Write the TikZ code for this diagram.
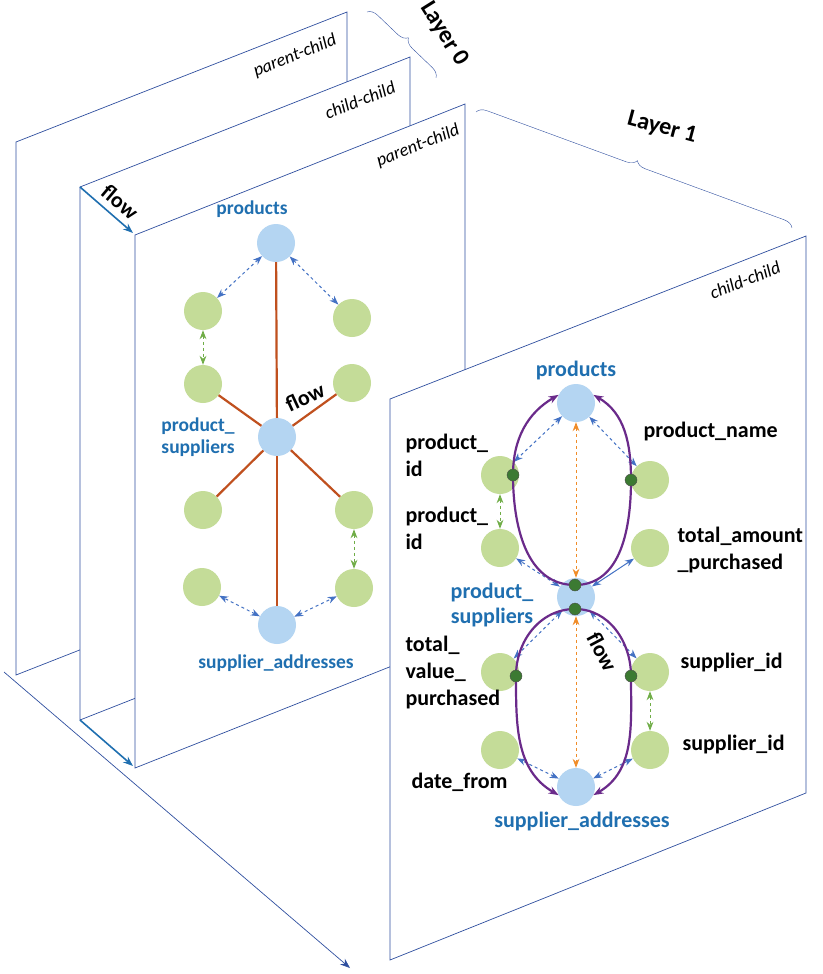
\documentclass[tikz,border=0pt]{standalone}
\usepackage{fontspec}
\setmainfont{Carlito}
\usetikzlibrary{arrows.meta,decorations.pathreplacing}
\definecolor{panelc}{HTML}{2F4F9F}
\definecolor{nblue}{HTML}{B4D5F2}
\definecolor{ngreen}{HTML}{C4DC98}
\definecolor{tblue}{HTML}{1F6FB0}
\definecolor{brown}{HTML}{C0501E}
\definecolor{purp}{HTML}{6A2A8A}
\definecolor{dblue}{HTML}{4472C4}
\definecolor{garrow}{HTML}{70AD47}
\definecolor{oarrow}{HTML}{F08C28}
\definecolor{dotc}{HTML}{3C7A32}
\tikzset{
  panel/.style={draw=panelc, fill=white, line width=0.7pt},
  tnode/.style={circle, fill=nblue, minimum size=38pt, inner sep=0pt},
  cnode/.style={circle, fill=ngreen, minimum size=38pt, inner sep=0pt},
  tlab/.style={text=tblue, font=\fontsize{22}{25}\selectfont\bfseries, align=center},
  slab/.style={text=tblue, font=\fontsize{19.5}{22}\selectfont\bfseries, align=center},
  clab/.style={font=\fontsize{22}{27}\selectfont\bfseries, align=left},
  plab/.style={font=\fontsize{18}{19}\selectfont\itshape, rotate=21.5, inner sep=1pt},
  link/.style={draw=brown, line width=2.2pt},
  rel/.style={{Stealth[length=9pt]}-{Stealth[length=9pt]}, dashed, draw=dblue, line width=1pt},
  same/.style={{Stealth[length=9pt]}-{Stealth[length=9pt]}, dashed, draw=garrow, line width=1pt},
  ord/.style={{Stealth[length=9pt]}-{Stealth[length=9pt]}, dashed, draw=oarrow, line width=1pt},
  loop/.style={-{Stealth[length=10pt]}, draw=purp, line width=2.2pt},
  dot/.style={circle, fill=dotc, draw=black!70, minimum size=12pt, inner sep=0pt},
  flowarr/.style={-{Stealth[length=10pt]}, draw=tblue, line width=1.6pt},
  brc/.style={draw=panelc, decorate, decoration={brace, amplitude=10pt}},
  flab/.style={font=\fontsize{22}{24}\selectfont\bfseries},
  llab/.style={font=\fontsize{24}{26}\selectfont\bfseries}
}
\begin{document}
\begin{tikzpicture}[x=1pt,y=-1pt]
    \useasboundingbox (0,0) rectangle (822,974);

    % floor
    \draw[-{Stealth[length=10pt]}, draw=panelc, line width=0.7pt] (4,672) -- (350,968);

    % layer 0 panels
    \draw[panel] (16,675) -- (16,142) -- (347,12) -- (347,545) -- cycle;
    \draw[panel] (80,720) -- (80,187) -- (410,57) -- (410,590) -- cycle;
    \draw[panel] (135,768) -- (135,235) -- (465,104) -- (465,637) -- cycle;
    \draw[flowarr] (80,187) -- (133,233);
    \draw[flowarr] (80,720) -- (133,766);
    \node[flab, rotate=-40] at (120,202) {flow};

    % layer 1 panel
    \draw[panel] (390,960) -- (390,399) -- (806,236) -- (806,793) -- cycle;

    \node[plab] at (295,56) {parent-child};
    \node[plab] at (360,100) {child-child};
    \node[plab] at (418,146) {parent-child};
    \node[plab] at (745,280) {child-child};

    % braces
    \draw[brc] (367,12) -- (436,78);
    \node[llab, rotate=-58] at (444,34) {Layer 0};
    \draw[brc] (476,112) -- (792,228);
    \node[llab, rotate=-15] at (662,128) {Layer 1};

    % left graph
    \node[tnode] (p0) at (276,243) {};
    \node[tnode] (ps0) at (277,437) {};
    \node[tnode] (sa0) at (277,625) {};
    \node[cnode] (l1) at (203,311) {};
    \node[cnode] (r1) at (352,318) {};
    \node[cnode] (l2) at (203,384) {};
    \node[cnode] (r2) at (352,383) {};
    \node[cnode] (l3) at (203,510) {};
    \node[cnode] (r3) at (354,510) {};
    \node[cnode] (l4) at (202,587) {};
    \node[cnode] (r4) at (354,588) {};
    \node[slab] (p0lab) at (252,209) {products};
    \node[slab] (ps0lab) at (198,437) {product\_\\suppliers};
    \node[slab] (sa0lab) at (276,663) {supplier\_addresses};
    \node[flab, rotate=25] (fl0) at (305,397) {flow};

    \foreach \n in {p0,sa0,l2,r2,l3,r3}
        \draw[link] (ps0) -- (\n);
    \draw[rel] (p0) -- (l1);
    \draw[rel] (p0) -- (r1);
    \draw[rel] (sa0) -- (l4);
    \draw[rel] (sa0) -- (r4);
    \draw[same] (l1) -- (l2);
    \draw[same] (r3) -- (r4);

    % right graph
    \node[tnode] (q0) at (576,403) {};
    \node[tnode] (ps1) at (576,597) {};
    \node[tnode] (sa1) at (576,787) {};
    \node[cnode] (a1) at (500,475) {};
    \node[cnode] (b1) at (650,480) {};
    \node[cnode] (a2) at (500,548) {};
    \node[cnode] (b2) at (650,548) {};
    \node[cnode] (a3) at (500,672) {};
    \node[cnode] (b3) at (650,672) {};
    \node[cnode] (a4) at (500,750) {};
    \node[cnode] (b4) at (650,750) {};
    \node[tlab] (q0lab) at (576,371) {products};
    \node[tlab] (ps1lab) at (492,605) {product\_\\suppliers};
    \node[tlab] (sa1lab) at (582,822) {supplier\_addresses};

    \node[clab, anchor=west] at (402,455) {product\_\\id};
    \node[clab, anchor=west] at (402,528) {product\_\\id};
    \node[clab, anchor=west] at (640,432) {product\_name};
    \node[clab, anchor=west] at (674,550) {total\_amount\\\_purchased};
    \node[clab, anchor=west] at (402,673) {total\_\\value\_\\purchased};
    \node[clab, anchor=west] at (677,663) {supplier\_id};
    \node[clab, anchor=west] at (679,745) {supplier\_id};
    \node[clab, anchor=west] at (408,782) {date\_from};
    \node[flab, rotate=-62] (fl1) at (602,652) {flow};

    \draw[rel] (q0) -- (a1);
    \draw[rel] (q0) -- (b1);
    \draw[rel] (ps1) -- (a2);
    \draw[rel, solid] (ps1) -- (b2);
    \draw[rel] (ps1) -- (a3);
    \draw[rel] (ps1) -- (b3);
    \draw[rel] (sa1) -- (a4);
    \draw[rel] (sa1) -- (b4);
    \draw[same] (a1) -- (a2);
    \draw[same] (b3) -- (b4);
    \draw[ord] (q0) -- (ps1);
    \draw[ord] (ps1) -- (sa1);

    % loops
    \coordinate (u0) at (575,585);
    \coordinate (ul) at (513,475);
    \coordinate (ur) at (631,480);
    \coordinate (w0) at (575,609);
    \coordinate (wl) at (516,676);
    \coordinate (wr) at (631,676);
    \draw[loop] (u0) to[out=180,in=-90] (ul) to[out=90,in=210] (q0.155);
    \draw[loop] (u0) to[out=0,in=-90] (ur) to[out=90,in=-30] (q0.25);
    \draw[loop] (w0) to[out=180,in=90] (wl) to[out=-90,in=150] (sa1.-155);
    \draw[loop] (w0) to[out=0,in=90] (wr) to[out=-90,in=30] (sa1.-25);
    \foreach \c in {u0,ul,ur,w0,wl,wr}
        \node[dot] at (\c) {};
\end{tikzpicture}
\end{document}
